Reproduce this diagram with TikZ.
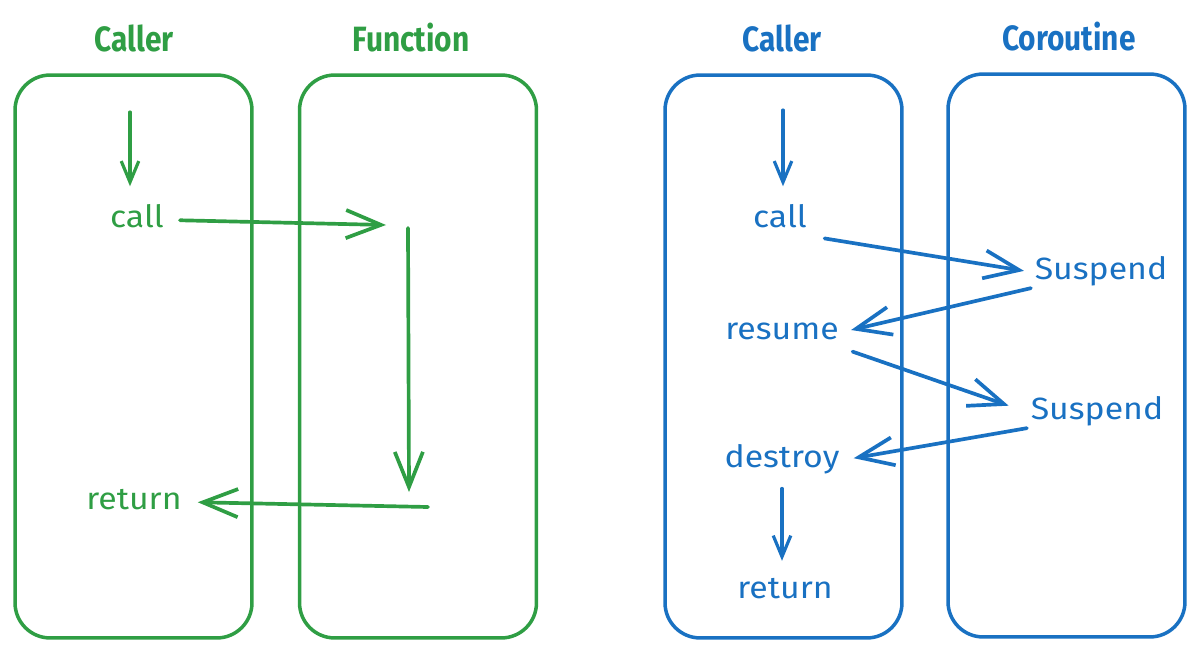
\documentclass[tikz,border=0pt]{standalone}
\usepackage{fontspec}
\usepackage{tikz}
\usepackage{xcolor}
\usetikzlibrary{arrows.meta, positioning, calc}
\newfontfamily\headfont{Fira Sans}[FakeStretch=0.85]
\newfontfamily\handfont{Fira Sans}[FakeStretch=1.1]
\definecolor{fngreen}{RGB}{47,158,68}
\definecolor{coblue}{RGB}{25,113,194}

\begin{document}
\begin{tikzpicture}[
    x=0.02cm, y=-0.02cm,
    lane/.style={rectangle, draw, line width=2pt,
                 rounded corners=20pt, minimum width=4.74cm,
                 minimum height=11.26cm},
    head/.style={font=\headfont\bfseries\fontsize{20}{20}\selectfont},
    lbl/.style={font=\handfont\fontsize{17.5}{17.5}\selectfont,
                text height=11pt, text depth=3pt, inner sep=2pt},
    flow/.style={-{Straight Barb[length=20pt, width=16pt]},
                 line width=2.1pt, line cap=round},
    tick/.style={-{Straight Barb[length=12pt, width=10pt]},
                 line width=1.8pt, line cap=round}
]
    \useasboundingbox (0,0) rectangle (1200,655);

    % plain function call
    \node[lane, draw=fngreen] (callerG) at (133.5,356.5) {};
    \node[lane, draw=fngreen] (funcG) at (418,356.5) {};
    \node[head, text=fngreen] (callerGt) at (134,38) {Caller};
    \node[head, text=fngreen] (funcGt) at (411,38) {Function};
    \node[lbl, text=fngreen] (callG) at (137,220) {call};
    \node[lbl, text=fngreen] (retG) at (134,502) {return};
    \coordinate (topG) at (130,112);
    \coordinate (fin) at (386,225);
    \coordinate (ftop) at (408,228);
    \coordinate (fbot) at (409,492);
    \coordinate (fout) at (428,507);

    \draw[tick, fngreen, shorten >=10pt] (topG) -- (topG |- callG.north);
    \draw[flow, fngreen, shorten <=7pt] (callG.east) -- (fin);
    \draw[flow, fngreen] (ftop) -- (fbot);
    \draw[flow, fngreen, shorten >=7pt] (fout) -- (retG.east);

    % coroutine
    \node[lane, draw=coblue] (callerB) at (783.5,356.5) {};
    \node[lane, draw=coblue] (coroB) at (1066.5,355.5) {};
    \node[head, text=coblue] (callerBt) at (782,38) {Caller};
    \node[head, text=coblue] (coroBt) at (1069,37) {Coroutine};
    \node[lbl, text=coblue] (callB) at (780,220) {call};
    \node[lbl, text=coblue] (sus1) at (1101,272) {Suspend};
    \node[lbl, text=coblue] (resB) at (782,332) {resume};
    \node[lbl, text=coblue] (sus2) at (1097,412) {Suspend};
    \node[lbl, text=coblue] (desB) at (782,460) {destroy};
    \node[lbl, text=coblue] (retB) at (785,591) {return};
    \coordinate (topB) at (783,110);

    \draw[tick, coblue, shorten >=10pt] (topB) -- (topB |- callB.north);
    \draw[flow, coblue, shorten <=8pt, shorten >=4pt] (callB.south east) -- (sus1.west);
    \draw[flow, coblue, shorten >=5pt] (sus1.south west) -- (resB.east);
    \draw[flow, coblue, shorten <=6pt, shorten >=11pt] (resB.south east) -- (sus2.west);
    \draw[flow, coblue, shorten >=6pt] (sus2.south west) -- (desB.east);
    \draw[tick, coblue, shorten <=7pt, shorten >=8pt] (desB.south) -- (desB.south |- retB.north);
\end{tikzpicture}
\end{document}
